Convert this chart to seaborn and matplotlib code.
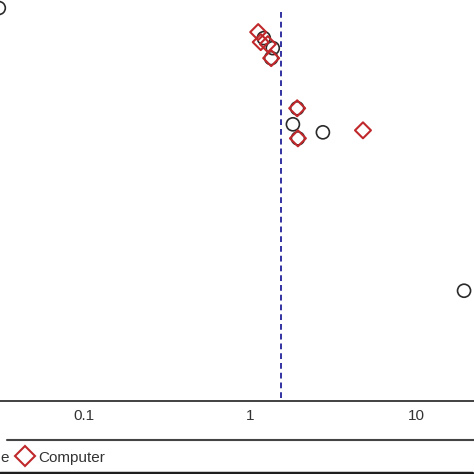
"""
Funnel plot (cropped view) - odds ratio vs standard error
"""

import numpy as np
import pandas as pd
import matplotlib
matplotlib.use('Agg')
import matplotlib.pyplot as plt
import seaborn as sns
from matplotlib.lines import Line2D

sns.set_style("white")
plt.rcParams['font.family'] = ['Liberation Sans', 'DejaVu Sans']

# Study estimates
odds_ratio = [1.12, 1.21, 1.16, 1.28, 1.37, 1.34, 1.34, 1.92, 1.92, 1.81,
              1.94, 1.94, 2.74, 4.77, 19.3, 0.031]
std_error = [0.16, 0.19, 0.21, 0.22, 0.24, 0.29, 0.29, 0.54, 0.54, 0.62,
             0.69, 0.69, 0.66, 0.65, 1.45, 0.04]
delivery = ['Computer', 'Other', 'Computer', 'Computer', 'Other', 'Computer', 'Other',
            'Computer', 'Other', 'Other', 'Computer', 'Other', 'Other', 'Computer',
            'Other', 'Other']

pooled_or = 1.535
x_ticks = [0.1, 1, 10]
x_tick_labels = ['0.1', '1', '10']

df = pd.DataFrame({'or': odds_ratio, 'se': std_error, 'group': delivery})

fig = plt.figure(figsize=(4.74, 4.74), dpi=100)
ax = fig.add_axes([0, 73 / 474, 1, 401 / 474])

# Pooled estimate
ax.plot([pooled_or, pooled_or], [0.06, 1.985], color='#22229a', lw=1.3,
        linestyle=(0, (3.2, 2.2)), zorder=1)

# Circles (drawn first), then diamonds
others = df[df['group'] == 'Other']
comp = df[df['group'] == 'Computer']
sns.scatterplot(data=others, x='or', y='se', marker='o', s=88, facecolor='none',
                edgecolor='#2a2a2a', linewidth=1.2, ax=ax, zorder=3, legend=False)
sns.scatterplot(data=comp, x='or', y='se', marker='D', s=66, facecolor='none',
                edgecolor='#c0282b', linewidth=1.5, ax=ax, zorder=4, legend=False)

ax.set_xscale('log')
ax.set_xlim(10 ** (-250 / 166.5), 10 ** (224 / 166.5))
ax.set_ylim(2.0, 0)
ax.set_xticks(x_ticks)
ax.set_xticklabels(x_tick_labels)
ax.minorticks_off()
ax.set_yticks([])
ax.set_xlabel('')
ax.set_ylabel('')
ax.tick_params(axis='x', direction='inout', length=8, width=1, color='#333333',
               labelsize=11, labelcolor='#333333', pad=2)
for side in ['top', 'left', 'right']:
    ax.spines[side].set_visible(False)
ax.spines['bottom'].set_color('#333333')
ax.spines['bottom'].set_linewidth(1.3)

# Legend strip below the axis (first entry is cut off at the left edge)
fig.add_artist(Line2D([7 / 474, 1], [1 - 440 / 474] * 2, color='#444444', lw=1.5))
fig.add_artist(Line2D([0, 472 / 474], [1 - 472.5 / 474] * 2, color='#1e1e1e', lw=2.5))
fig.text(0, 1 - 458 / 474, 'e', ha='left', va='center',
         fontsize=11, color='#333333')
fig.add_artist(Line2D([25 / 474], [1 - 456 / 474], marker='D', markersize=10,
                      markerfacecolor='none', markeredgecolor='#c0282b',
                      markeredgewidth=1.5, linestyle='none'))
fig.text(38 / 474, 1 - 458 / 474, 'Computer', ha='left', va='center',
         fontsize=11, color='#333333')

plt.savefig('out.png', dpi=100)
plt.close()
